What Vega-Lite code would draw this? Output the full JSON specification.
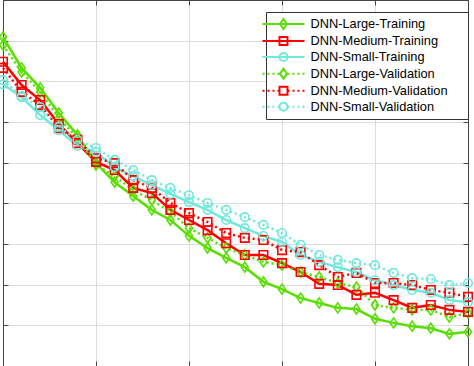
{
  "$schema": "https://vega.github.io/schema/vega-lite/v6.json",
  "width": 465,
  "height": 366,
  "autosize": {"type": "none"},
  "padding": {"left": 3, "top": 0, "right": 6, "bottom": 0},
  "background": "white",
  "config": {
    "view": {"stroke": null},
    "axis": {"labels": false, "title": null, "domainColor": "#444444", "domainWidth": 1, "tickColor": "#444444", "tickSize": -5, "tickWidth": 1, "gridColor": "#dddddd", "gridWidth": 1},
    "legend": {
      "title": null, "orient": "none", "legendX": 263, "legendY": 12,
      "padding": 4, "strokeColor": "#333333", "fillColor": "white", "cornerRadius": 0,
      "labelFont": "Liberation Sans", "labelFontSize": 12.8, "labelColor": "#000000", "labelLimit": 300,
      "symbolSize": 196, "symbolStrokeWidth": 2, "symbolOffset": 5.5, "labelOffset": 19, "rowPadding": -0.3,
      "symbolFillColor": "transparent"
    }
  },
  "data": {
    "values": [
      {"e": 0, "DNN-Large-Training": 8.09, "DNN-Medium-Training": 7.48, "DNN-Small-Training": 6.93, "DNN-Large-Validation": 7.89, "DNN-Medium-Validation": 7.33, "DNN-Small-Validation": 7.03},
      {"e": 1, "DNN-Large-Training": 7.33, "DNN-Medium-Training": 6.91, "DNN-Small-Training": 6.61, "DNN-Large-Validation": 7.23, "DNN-Medium-Validation": 6.74, "DNN-Small-Validation": 6.64},
      {"e": 2, "DNN-Large-Training": 6.84, "DNN-Medium-Training": 6.54, "DNN-Small-Training": 6.17, "DNN-Large-Validation": 6.74, "DNN-Medium-Validation": 6.42, "DNN-Small-Validation": 6.37},
      {"e": 3, "DNN-Large-Training": 6.22, "DNN-Medium-Training": 5.95, "DNN-Small-Training": 5.80, "DNN-Large-Validation": 6.10, "DNN-Medium-Validation": 5.85, "DNN-Small-Validation": 5.88},
      {"e": 4, "DNN-Large-Training": 5.68, "DNN-Medium-Training": 5.48, "DNN-Small-Training": 5.41, "DNN-Large-Validation": 5.61, "DNN-Medium-Validation": 5.56, "DNN-Small-Validation": 5.56},
      {"e": 5, "DNN-Large-Training": 4.99, "DNN-Medium-Training": 5.02, "DNN-Small-Training": 5.26, "DNN-Large-Validation": 4.94, "DNN-Medium-Validation": 5.11, "DNN-Small-Validation": 5.36},
      {"e": 6, "DNN-Large-Training": 4.52, "DNN-Medium-Training": 4.82, "DNN-Small-Training": 4.89, "DNN-Large-Validation": 4.67, "DNN-Medium-Validation": 4.99, "DNN-Small-Validation": 5.07},
      {"e": 7, "DNN-Large-Training": 4.18, "DNN-Medium-Training": 4.38, "DNN-Small-Training": 4.67, "DNN-Large-Validation": 4.33, "DNN-Medium-Validation": 4.57, "DNN-Small-Validation": 4.82},
      {"e": 8, "DNN-Large-Training": 3.84, "DNN-Medium-Training": 4.25, "DNN-Small-Training": 4.45, "DNN-Large-Validation": 4.08, "DNN-Medium-Validation": 4.38, "DNN-Small-Validation": 4.57},
      {"e": 9, "DNN-Large-Training": 3.59, "DNN-Medium-Training": 3.84, "DNN-Small-Training": 4.23, "DNN-Large-Validation": 3.79, "DNN-Medium-Validation": 4.01, "DNN-Small-Validation": 4.38},
      {"e": 10, "DNN-Large-Training": 3.20, "DNN-Medium-Training": 3.59, "DNN-Small-Training": 4.03, "DNN-Large-Validation": 3.39, "DNN-Medium-Validation": 3.76, "DNN-Small-Validation": 4.20},
      {"e": 11, "DNN-Large-Training": 2.90, "DNN-Medium-Training": 3.34, "DNN-Small-Training": 3.84, "DNN-Large-Validation": 3.15, "DNN-Medium-Validation": 3.54, "DNN-Small-Validation": 4.01},
      {"e": 12, "DNN-Large-Training": 2.66, "DNN-Medium-Training": 3.02, "DNN-Small-Training": 3.59, "DNN-Large-Validation": 2.90, "DNN-Medium-Validation": 3.27, "DNN-Small-Validation": 3.84},
      {"e": 13, "DNN-Large-Training": 2.43, "DNN-Medium-Training": 2.73, "DNN-Small-Training": 3.39, "DNN-Large-Validation": 2.73, "DNN-Medium-Validation": 3.15, "DNN-Small-Validation": 3.66},
      {"e": 14, "DNN-Large-Training": 2.07, "DNN-Medium-Training": 2.73, "DNN-Small-Training": 3.20, "DNN-Large-Validation": 2.56, "DNN-Medium-Validation": 3.10, "DNN-Small-Validation": 3.47},
      {"e": 15, "DNN-Large-Training": 1.89, "DNN-Medium-Training": 2.53, "DNN-Small-Training": 3.05, "DNN-Large-Validation": 2.48, "DNN-Medium-Validation": 2.85, "DNN-Small-Validation": 3.27},
      {"e": 16, "DNN-Large-Training": 1.67, "DNN-Medium-Training": 2.31, "DNN-Small-Training": 2.73, "DNN-Large-Validation": 2.31, "DNN-Medium-Validation": 2.80, "DNN-Small-Validation": 2.98},
      {"e": 17, "DNN-Large-Training": 1.55, "DNN-Medium-Training": 2.02, "DNN-Small-Training": 2.56, "DNN-Large-Validation": 2.19, "DNN-Medium-Validation": 2.48, "DNN-Small-Validation": 2.73},
      {"e": 18, "DNN-Large-Training": 1.43, "DNN-Medium-Training": 1.99, "DNN-Small-Training": 2.43, "DNN-Large-Validation": 2.04, "DNN-Medium-Validation": 2.19, "DNN-Small-Validation": 2.61},
      {"e": 19, "DNN-Large-Training": 1.40, "DNN-Medium-Training": 1.75, "DNN-Small-Training": 2.31, "DNN-Large-Validation": 1.94, "DNN-Medium-Validation": 2.29, "DNN-Small-Validation": 2.53},
      {"e": 20, "DNN-Large-Training": 1.16, "DNN-Medium-Training": 1.80, "DNN-Small-Training": 2.11, "DNN-Large-Validation": 1.50, "DNN-Medium-Validation": 2.04, "DNN-Small-Validation": 2.48},
      {"e": 21, "DNN-Large-Training": 1.06, "DNN-Medium-Training": 1.62, "DNN-Small-Training": 1.99, "DNN-Large-Validation": 1.43, "DNN-Medium-Validation": 2.04, "DNN-Small-Validation": 2.29},
      {"e": 22, "DNN-Large-Training": 0.98, "DNN-Medium-Training": 1.43, "DNN-Small-Training": 1.87, "DNN-Large-Validation": 1.38, "DNN-Medium-Validation": 1.99, "DNN-Small-Validation": 2.16},
      {"e": 23, "DNN-Large-Training": 0.93, "DNN-Medium-Training": 1.50, "DNN-Small-Training": 1.80, "DNN-Large-Validation": 1.38, "DNN-Medium-Validation": 1.87, "DNN-Small-Validation": 2.14},
      {"e": 24, "DNN-Large-Training": 0.79, "DNN-Medium-Training": 1.38, "DNN-Small-Training": 1.62, "DNN-Large-Validation": 1.20, "DNN-Medium-Validation": 1.80, "DNN-Small-Validation": 1.99},
      {"e": 25, "DNN-Large-Training": 0.84, "DNN-Medium-Training": 1.33, "DNN-Small-Training": 1.57, "DNN-Large-Validation": 1.30, "DNN-Medium-Validation": 1.70, "DNN-Small-Validation": 2.04}
    ]
  },
  "transform": [
    {"fold": ["DNN-Large-Training", "DNN-Medium-Training", "DNN-Small-Training", "DNN-Large-Validation", "DNN-Medium-Validation", "DNN-Small-Validation"], "as": ["series", "loss"]}
  ],
  "encoding": {
    "x": {"field": "e", "type": "quantitative", "scale": {"domain": [0, 25], "nice": false, "zero": false}},
    "y": {"field": "loss", "type": "quantitative", "scale": {"domain": [0, 9], "nice": false, "zero": false}},
    "color": {
      "field": "series", "type": "nominal",
      "scale": {"domain": ["DNN-Large-Training", "DNN-Medium-Training", "DNN-Small-Training", "DNN-Large-Validation", "DNN-Medium-Validation", "DNN-Small-Validation"], "range": ["#58de00", "#ff0000", "#70e8dc", "#58de00", "#ff0000", "#70e8dc"]}
    }
  },
  "layer": [
    {
      "transform": [{"filter": {"field": "series", "oneOf": ["DNN-Large-Training", "DNN-Medium-Training", "DNN-Small-Training"]}}],
      "mark": {"type": "line", "strokeWidth": 2.5},
      "encoding": {
        "x": {"field": "e", "type": "quantitative", "axis": {"orient": "bottom", "values": [0, 5, 10, 15, 20, 25], "grid": true}},
        "y": {"field": "loss", "type": "quantitative", "axis": {"orient": "left", "values": [0, 1, 2, 3, 4, 5, 6, 7, 8, 9], "grid": true}}
      }
    },
    {
      "transform": [{"filter": {"field": "series", "oneOf": ["DNN-Large-Validation", "DNN-Medium-Validation", "DNN-Small-Validation"]}}],
      "mark": {"type": "line", "strokeWidth": 2.5, "strokeDash": [2, 3], "strokeCap": "butt"},
      "encoding": {
        "x": {"field": "e", "type": "quantitative", "axis": {"orient": "top", "values": [0, 5, 10, 15, 20, 25], "grid": false}},
        "y": {"field": "loss", "type": "quantitative", "axis": {"orient": "right", "values": [0, 1, 2, 3, 4, 5, 6, 7, 8, 9], "grid": false}}
      }
    },
    {
      "transform": [{"filter": {"field": "series", "oneOf": ["DNN-Large-Training", "DNN-Large-Validation"]}}],
      "mark": {"type": "point", "shape": "M0,-1L0.7,0L0,1L-0.7,0Z", "filled": false, "strokeWidth": 1.6, "size": 100, "opacity": 1},
      "encoding": {"x": {"field": "e", "type": "quantitative", "axis": null}, "y": {"field": "loss", "type": "quantitative", "axis": null}}
    },
    {
      "transform": [{"filter": {"field": "series", "oneOf": ["DNN-Medium-Training", "DNN-Medium-Validation"]}}],
      "mark": {"type": "point", "shape": "square", "filled": false, "strokeWidth": 1.6, "size": 72, "opacity": 1},
      "encoding": {"x": {"field": "e", "type": "quantitative", "axis": null}, "y": {"field": "loss", "type": "quantitative", "axis": null}}
    },
    {
      "transform": [{"filter": {"field": "series", "oneOf": ["DNN-Small-Training", "DNN-Small-Validation"]}}],
      "mark": {"type": "point", "shape": "circle", "filled": false, "strokeWidth": 1.6, "size": 72, "opacity": 1},
      "encoding": {"x": {"field": "e", "type": "quantitative", "axis": null}, "y": {"field": "loss", "type": "quantitative", "axis": null}}
    },
    {
      "transform": [{"filter": "datum.e < 0"}],
      "mark": {"type": "point", "filled": false, "strokeWidth": 2, "opacity": 1},
      "encoding": {
        "x": {"field": "e", "type": "quantitative", "axis": null},
        "y": {"field": "loss", "type": "quantitative", "axis": null},
        "shape": {
          "field": "series", "type": "nominal",
          "scale": {
            "domain": ["DNN-Large-Training", "DNN-Medium-Training", "DNN-Small-Training", "DNN-Large-Validation", "DNN-Medium-Validation", "DNN-Small-Validation"],
            "range": [
              "M25.1,0M-3,0H3M0,-0.71L0.5,0L0,0.71L-0.5,0Z",
              "M25.1,0M-3,0H3M-0.57,-0.57H0.57V0.57H-0.57Z",
              "M25.1,0M-3,0H3M0.57,0A0.57,0.57 0 1 1 -0.57,0A0.57,0.57 0 1 1 0.57,0Z",
              "M25.1,0M-3,0H-2.71M-2.29,0H-2M-1.57,0H-1.29M-0.86,0H-0.57M0.57,0H0.86M1.29,0H1.57M2,0H2.29M2.71,0H3M0,-0.71L0.5,0L0,0.71L-0.5,0Z",
              "M25.1,0M-3,0H-2.71M-2.29,0H-2M-1.57,0H-1.29M-0.86,0H-0.57M0.57,0H0.86M1.29,0H1.57M2,0H2.29M2.71,0H3M-0.57,-0.57H0.57V0.57H-0.57Z",
              "M25.1,0M-3,0H-2.71M-2.29,0H-2M-1.57,0H-1.29M-0.86,0H-0.57M0.57,0H0.86M1.29,0H1.57M2,0H2.29M2.71,0H3M0.57,0A0.57,0.57 0 1 1 -0.57,0A0.57,0.57 0 1 1 0.57,0Z"
            ]
          }
        }
      }
    }
  ],
  "resolve": {"axis": {"x": "independent", "y": "independent"}}
}
